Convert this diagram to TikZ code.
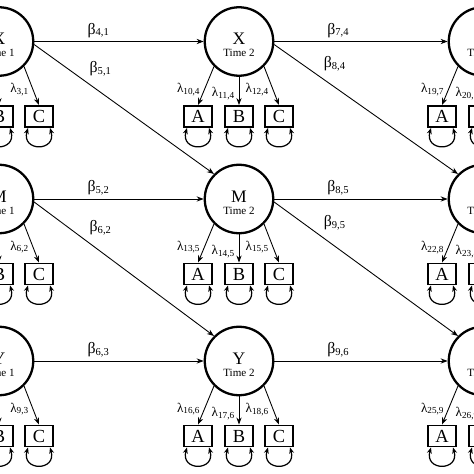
\documentclass[tikz,border=0pt]{standalone}
\usepackage{fontspec}
\setmainfont{Liberation Serif}
\usetikzlibrary{arrows.meta}

\newcommand{\bet}[1]{β\textsubscript{#1}}
\newcommand{\lam}[1]{λ\textsubscript{#1}}

\tikzset{
  latent/.style={circle, draw, line width=1.3pt, minimum size=1.37cm, inner sep=0pt},
  manifest/.style={rectangle, draw, line width=1.1pt, minimum width=0.56cm, minimum height=0.42cm, inner sep=0pt, font=\fontsize{10.5}{12}\selectfont},
  fname/.style={font=\fontsize{10}{12}\selectfont, inner sep=0pt},
  ftime/.style={font=\fontsize{6.3}{7}\selectfont, inner sep=0pt},
  reg/.style={-{Stealth[length=4pt,width=3pt]}, line width=0.5pt},
  resid/.style={{Stealth[length=3.5pt,width=2.8pt]}-{Stealth[length=3.5pt,width=2.8pt]}, line width=0.7pt},
  coef/.style={font=\fontsize{9}{10}\selectfont, inner sep=2pt},
  load/.style={font=\fontsize{7.5}{9}\selectfont, inner sep=1pt, left=1pt, pos=0.6}
}

\begin{document}
\begin{tikzpicture}[x=0.02cm, y=0.02cm]
  \useasboundingbox (0,0) rectangle (474,474);
  \clip (0,0) rectangle (474,474);

  % Latent factors at the three waves
  \foreach \nm/\r/\y in {X/x/432.5, M/m/275, Y/y/113} {
    \node[latent] (\r1) at (-1,\y) {};
    \node[latent] (\r2) at (239,\y) {};
    \node[latent] (\r3) at (483,\y) {};
    \node[fname] (\r1n) at ([shift={(0,2.5)}]\r1.center) {\nm};
    \node[ftime] (\r1t) at ([shift={(0,-11.5)}]\r1.center) {Time 1};
    \node[fname] (\r2n) at ([shift={(0,2.5)}]\r2.center) {\nm};
    \node[ftime] (\r2t) at ([shift={(0,-11.5)}]\r2.center) {Time 2};
    \node[ftime] (\r3t) at ([shift={(0,-11.5)}]\r3.center) {Time 3};
  }

  % Indicators of wave 1
  \foreach \r/\lc in {x/{3,1}, m/{6,2}, y/{9,3}} {
    \node[manifest] (\r1b) at ([shift={(0,-75)}]\r1.center) {B};
    \node[manifest] (\r1c) at ([shift={(40,-75)}]\r1.center) {C};
    \draw[reg] (\r1.south) -- (\r1b.north);
    \draw[reg] (\r1.-45) -- node[load] {\lam{\lc}} (\r1c.north);
    \foreach \b in {b,c}
      \draw[resid] ([shift={(-11,0)}]\r1\b.south) .. controls +(-7,-24) and +(7,-24) .. ([shift={(11,0)}]\r1\b.south);
  }

  % Indicators of wave 2
  \foreach \r/\la/\lb/\lc in {x/{10,4}/{11,4}/{12,4}, m/{13,5}/{14,5}/{15,5}, y/{16,6}/{17,6}/{18,6}} {
    \node[manifest] (\r2a) at ([shift={(-41,-75)}]\r2.center) {A};
    \node[manifest] (\r2b) at ([shift={(0,-75)}]\r2.center) {B};
    \node[manifest] (\r2c) at ([shift={(40,-75)}]\r2.center) {C};
    \draw[reg] (\r2.-135) -- node[load] {\lam{\la}} (\r2a.north);
    \draw[reg] (\r2.south) -- node[load] {\lam{\lb}} (\r2b.north);
    \draw[reg] (\r2.-45) -- node[load] {\lam{\lc}} (\r2c.north);
    \foreach \b in {a,b,c}
      \draw[resid] ([shift={(-11,0)}]\r2\b.south) .. controls +(-7,-24) and +(7,-24) .. ([shift={(11,0)}]\r2\b.south);
  }

  % Indicators of wave 3
  \foreach \r/\la/\lb in {x/{19,7}/{20,7}, m/{22,8}/{23,8}, y/{25,9}/{26,9}} {
    \node[manifest] (\r3a) at ([shift={(-41,-75)}]\r3.center) {A};
    \node[manifest] (\r3b) at ([shift={(0,-75)}]\r3.center) {};
    \draw[reg] (\r3.-135) -- node[load] {\lam{\la}} (\r3a.north);
    \draw[reg] (\r3.south) -- node[load] {\lam{\lb}} (\r3b.north);
    \foreach \b in {a,b}
      \draw[resid] ([shift={(-11,0)}]\r3\b.south) .. controls +(-7,-24) and +(7,-24) .. ([shift={(11,0)}]\r3\b.south);
  }

  % Stability paths
  \draw[reg] (x1.east) -- node[coef, above, pos=0.38] {\bet{4,1}} (x2.west);
  \draw[reg] (m1.east) -- node[coef, above, pos=0.38] {\bet{5,2}} (m2.west);
  \draw[reg] (y1.east) -- node[coef, above, pos=0.38] {\bet{6,3}} (y2.west);
  \draw[reg] (x2.east) -- node[coef, above, pos=0.37] {\bet{7,4}} (x3.west);
  \draw[reg] (m2.east) -- node[coef, above, pos=0.37] {\bet{8,5}} (m3.west);
  \draw[reg] (y2.east) -- node[coef, above, pos=0.37] {\bet{9,6}} (y3.west);

  % Cross-lagged paths
  \draw[reg] (x1.-5) -- node[coef, above=7pt, pos=0.37] {\bet{5,1}} (m2.135);
  \draw[reg] (m1.-5) -- node[coef, above=7pt, pos=0.37] {\bet{6,2}} (y2.135);
  \draw[reg] (x2.-5) -- node[coef, above=7pt, pos=0.33] {\bet{8,4}} (m3.135);
  \draw[reg] (m2.-5) -- node[coef, above=7pt, pos=0.33] {\bet{9,5}} (y3.135);
\end{tikzpicture}
\end{document}
